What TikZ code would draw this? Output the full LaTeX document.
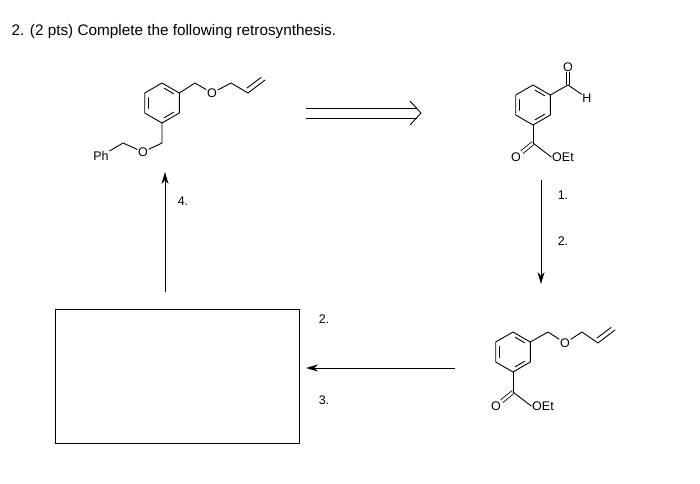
\documentclass[tikz,border=0pt]{standalone}
\usepackage{fontspec}
\setmainfont{Liberation Sans}
\usetikzlibrary{arrows.meta}
\begin{document}
\begin{tikzpicture}[x=1pt,y=-1pt,
  bond/.style={line width=0.9pt,line cap=round,line join=round},
  dbond/.style={line width=0.8pt,double distance=2.6pt},
  atom/.style={inner sep=0.8pt,font=\fontsize{12.5}{12.5}\selectfont,fill=white},
  lab/.style={font=\fontsize{12.5}{12.5}\selectfont},
  rxn/.style={line width=0.9pt,-{Stealth[length=12pt,width=7pt]}},
  ring/.pic={
    \draw[bond] (0,-20)--(17.3,-10)--(17.3,10)--(0,20)--(-17.3,10)--(-17.3,-10)--cycle;
    \draw[bond] (-13.6,-5.5)--(-13.6,5.5);
    \draw[bond] (2.1,-14.8)--(11.7,-9.2);
    \draw[bond] (11.7,9.2)--(2.1,14.8);
  }]
\useasboundingbox (0,0) rectangle (700,483);
\node[anchor=west,font=\fontsize{15.3}{15.3}\selectfont] (title) at (8,32) {2. (2 pts) Complete the following retrosynthesis.};
% --- top-left molecule
\pic at (162,103) {ring};
\node[atom] (o1) at (212,93) {O};
\draw[bond] (179.3,93)--(195,83)--(o1);
\draw[bond] (o1)--(231,83)--(248,93)--(265,80);
\draw[bond] (247,88)--(261,77.5);
\node[atom] (o2) at (143,152) {O};
\node[atom] (ph) at (101,156) {Ph};
\draw[bond] (162,123)--(162,143)--(o2);
\draw[bond] (o2)--(123,143)--(ph);
% --- top-right molecule
\pic at (533,105) {ring};
\node[atom] (o3) at (568,67) {O};
\node[atom] (h1) at (587,98) {H};
\draw[bond] (550.3,95)--(568,85);
\draw[dbond] (568,85)--(o3);
\draw[bond] (568,85)--(h1);
\node[atom] (o4) at (516,157) {O};
\node[atom] (oet1) at (563,157) {OEt};
\draw[bond] (533,125)--(533,143);
\draw[dbond] (533,143)--(o4);
\draw[bond] (533,143)--(oet1.west);
% --- bottom-right molecule
\pic at (513,352) {ring};
\node[atom] (o5) at (565,343) {O};
\draw[bond] (530.3,342)--(548,332)--(o5);
\draw[bond] (o5)--(582,332)--(598,343)--(615,330);
\draw[bond] (597,338)--(611,327.5);
\node[atom] (o6) at (496,406) {O};
\node[atom] (oet2) at (543,406) {OEt};
\draw[bond] (513,372)--(513,392);
\draw[dbond] (513,392)--(o6);
\draw[bond] (513,392)--(oet2.west);
% --- arrows
\coordinate (ra1) at (306,108); \coordinate (ra2) at (417,108);
\coordinate (rb1) at (306,118); \coordinate (rb2) at (417,118);
\draw[line width=0.9pt] (ra1)--(ra2) (rb1)--(rb2);
\coordinate (rtip) at (421,113);
\draw[line width=0.9pt] (410,101)--(rtip)--(410,125);
\coordinate (u1) at (165,292); \coordinate (u2) at (165,172);
\draw[rxn] (u1)--(u2);
\node[lab] (l4) at (183,201) {4.};
\coordinate (d1) at (541,180); \coordinate (d2) at (541,284);
\draw[rxn] (d1)--(d2);
\node[lab] (l1) at (563,195) {1.};
\node[lab] (l2) at (563,241) {2.};
\coordinate (h1s) at (455,368); \coordinate (h1e) at (306,368);
\draw[rxn] (h1s)--(h1e);
\node[draw,line width=0.8pt,minimum width=244pt,minimum height=134pt,anchor=north west] (box) at (55,309) {};
\node[lab] (b2) at (324,319) {2.};
\node[lab] (b3) at (324,400) {3.};
\end{tikzpicture}
\end{document}
